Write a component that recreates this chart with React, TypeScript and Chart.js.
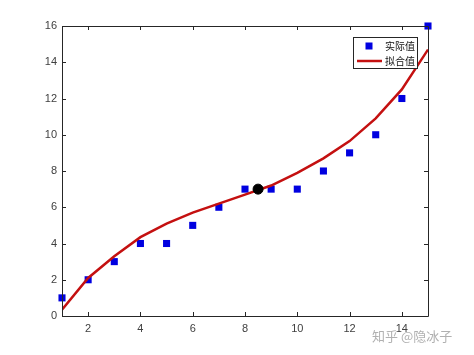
import React, { useEffect, useRef } from "react";
import { Chart, registerables } from "chart.js";

Chart.register(...registerables);

const xValues = [1, 2, 3, 4, 5, 6, 7, 8, 9, 10, 11, 12, 13, 14, 15];
const actualValues = [1, 2, 3, 4, 4, 5, 6, 7, 7, 7, 8, 9, 10, 12, 16];
const fittedValues = [0.35, 2.1, 3.3, 4.35, 5.1, 5.7, 6.2, 6.7, 7.2, 7.9, 8.7, 9.65, 10.9, 12.5, 14.7];
const markX = [8.5];
const markY = [7];
const xTicks = [2, 4, 6, 8, 10, 12, 14];
const yTicks = [0, 2, 4, 6, 8, 10, 12, 14, 16];
const legendLabels = ["实际值", "拟合值"];
const watermark = "知乎 @隐冰子";

const BLUE = "#0000e0";
const RED = "#c41010";
const AXIS = "#262626";

const framePlugin = {
  id: "frame",
  afterDraw(chart: any) {
    const { ctx, chartArea } = chart;
    const xs = chart.scales.x;
    const ys = chart.scales.y;
    const { left, right, top, bottom } = chartArea;
    ctx.save();
    ctx.strokeStyle = AXIS;
    ctx.lineWidth = 1;
    ctx.beginPath();
    ctx.rect(Math.round(left) + 0.5, Math.round(top) + 0.5, Math.round(right - left), Math.round(bottom - top));
    ctx.stroke();
    const tl = 4;
    ctx.beginPath();
    xTicks.forEach((v) => {
      const px = Math.round(xs.getPixelForValue(v)) + 0.5;
      ctx.moveTo(px, bottom);
      ctx.lineTo(px, bottom - tl);
      ctx.moveTo(px, top);
      ctx.lineTo(px, top + tl);
    });
    yTicks.forEach((v) => {
      const py = Math.round(ys.getPixelForValue(v)) + 0.5;
      ctx.moveTo(left, py);
      ctx.lineTo(left + tl, py);
      ctx.moveTo(right, py);
      ctx.lineTo(right - tl, py);
    });
    ctx.stroke();

    // legend
    const lx = 353, ly = 37, lw = 64, lh = 31;
    ctx.fillStyle = "#ffffff";
    ctx.fillRect(lx, ly, lw, lh);
    ctx.strokeStyle = AXIS;
    ctx.strokeRect(lx + 0.5, ly + 0.5, lw, lh);
    // entry 1: square marker
    ctx.fillStyle = BLUE;
    ctx.fillRect(369 - 3.5, 46 - 3.5, 7, 7);
    // entry 2: red line
    ctx.strokeStyle = RED;
    ctx.lineWidth = 2.5;
    ctx.beginPath();
    ctx.moveTo(357, 61);
    ctx.lineTo(382, 61);
    ctx.stroke();
    ctx.fillStyle = "#111111";
    ctx.font = '10px "Noto Sans CJK SC"';
    ctx.textBaseline = "middle";
    ctx.textAlign = "left";
    ctx.fillText(legendLabels[0], 385, 46);
    ctx.fillText(legendLabels[1], 385, 61);

    // watermark
    ctx.fillStyle = "rgba(150,150,150,0.75)";
    ctx.font = '13px "Noto Sans CJK SC"';
    ctx.textBaseline = "middle";
    ctx.fillText(watermark, 372, 336);
    ctx.restore();
  },
};

export default function App() {
  const ref = useRef<HTMLCanvasElement>(null);
  useEffect(() => {
    document.body.style.margin = "0";
    const canvas = ref.current!;
    const chart = new Chart(canvas, {
      type: "scatter",
      data: {
        datasets: [
          {
            label: "mark",
            data: markX.map((x, i) => ({ x, y: markY[i] })),
            backgroundColor: "#000000",
            borderColor: "#000000",
            pointStyle: "circle",
            pointRadius: 5,
            clip: false,
          },
          {
            label: legendLabels[1],
            data: xValues.map((x, i) => ({ x, y: fittedValues[i] })),
            showLine: true,
            borderColor: RED,
            borderWidth: 2.5,
            pointRadius: 0,
            fill: false,
            tension: 0,
          },
          {
            label: legendLabels[0],
            data: xValues.map((x, i) => ({ x, y: actualValues[i] })),
            backgroundColor: BLUE,
            borderColor: BLUE,
            pointStyle: "rect",
            pointRadius: 5,
            borderWidth: 0,
            clip: false,
          },
        ],
      },
      options: {
        animation: false,
        responsive: false,
        maintainAspectRatio: false,
        layout: { padding: { left: 0, top: 26, right: 46, bottom: 0 } },
        plugins: { legend: { display: false }, tooltip: { enabled: false } },
        scales: {
          x: {
            type: "linear",
            min: 1,
            max: 15,
            afterBuildTicks: (s: any) => {
              s.ticks = xTicks.map((v) => ({ value: v }));
            },
            afterFit: (s: any) => {
              s.height = 39;
            },
            grid: { display: false, drawTicks: false },
            border: { display: false },
            ticks: {
              padding: 6,
              color: "#404040",
              font: { family: "Liberation Sans", size: 11 },
            },
          },
          y: {
            type: "linear",
            min: 0,
            max: 16,
            afterBuildTicks: (s: any) => {
              s.ticks = yTicks.map((v) => ({ value: v }));
            },
            afterFit: (s: any) => {
              s.width = 62;
            },
            grid: { display: false, drawTicks: false },
            border: { display: false },
            ticks: {
              padding: 5,
              color: "#404040",
              font: { family: "Liberation Sans", size: 11 },
            },
          },
        },
      },
      plugins: [framePlugin],
    } as any);
    return () => chart.destroy();
  }, []);
  return (
    <div style={{ position: "absolute", left: 0, top: 0, width: 474, height: 355, background: "#fff" }}>
      <canvas ref={ref} width={474} height={355} style={{ display: "block" }} />
    </div>
  );
}
